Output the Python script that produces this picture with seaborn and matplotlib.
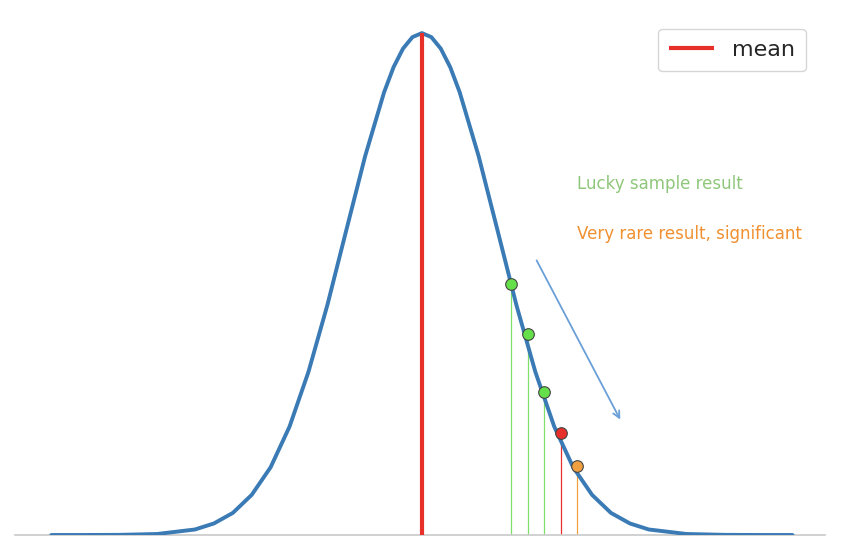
import matplotlib
matplotlib.use("Agg")
import matplotlib.pyplot as plt
import seaborn as sns
import pandas as pd

# curve samples (x in sd units, y normalised height)
curve_x = [-4.9,-4.5,-4,-3.5,-3,-2.75,-2.5,-2.25,-2,-1.75,-1.5,-1.25,-1,-0.75,-0.5,-0.375,-0.25,-0.125,0,
           0.125,0.25,0.375,0.5,0.75,1,1.25,1.5,1.75,2,2.25,2.5,2.75,3,3.5,4,4.5,4.9]
curve_y = [0,0,0.0003,0.002,0.011,0.023,0.044,0.08,0.135,0.216,0.325,0.458,0.607,0.755,0.882,0.932,0.969,0.992,1.0,
           0.992,0.969,0.932,0.882,0.755,0.607,0.458,0.325,0.216,0.135,0.08,0.044,0.023,0.011,0.002,0.0003,0,0]
pts_x = [1.18, 1.40, 1.61, 1.84, 2.05]
pts_y = [0.50, 0.40, 0.285, 0.203, 0.138]
pts_c = ["#66e04a", "#66e04a", "#66e04a", "#e8302a", "#f0a040"]
line_c = ["#7fe06a", "#7fe06a", "#7fe06a", "#e8302a", "#f0a040"]

sns.set_theme(style="white")
fig = plt.figure(figsize=(8.5, 5.37), dpi=100)
ax = fig.add_axes([15/850, 2/537, 810/850, 525/537])
df = pd.DataFrame({"x": curve_x, "y": curve_y})
sns.lineplot(data=df, x="x", y="y", ax=ax, color="#3a7ab5", lw=2.8, zorder=3)
ax.vlines(0, 0, 1.0, color="#e8302a", lw=3, label="mean", zorder=4)
for x, y, c, lc in zip(pts_x, pts_y, pts_c, line_c):
    ax.vlines(x, 0, y, color=lc, lw=0.9, zorder=2)
    ax.scatter([x], [y], s=70, color=c, edgecolor="#444", linewidth=0.8, zorder=5)
ax.annotate("", xy=(2.64, 0.225), xytext=(1.5, 0.552),
            arrowprops=dict(arrowstyle="->", color="#6a9fd8", lw=1.3))
ax.text(2.05, 0.70, "Lucky sample result", color="#8fc77a", fontsize=12, va="center")
ax.text(2.05, 0.60, "Very rare result, significant", color="#f09030", fontsize=12, va="center")
ax.set_xlim(-5.38, 5.33)
ax.set_ylim(0, 1.046)
ax.set_xlabel(""); ax.set_ylabel("")
ax.set_xticks([]); ax.set_yticks([])
for s in ["top", "right", "left"]:
    ax.spines[s].set_visible(False)
ax.spines["bottom"].set_color("#cccccc")
leg = ax.legend(loc="upper right", fontsize=16, frameon=True, handlelength=2, borderpad=0.5,
                bbox_to_anchor=(0.99, 0.985))
leg.get_frame().set_edgecolor("#cccccc")
fig.savefig("out.png", dpi=100)
